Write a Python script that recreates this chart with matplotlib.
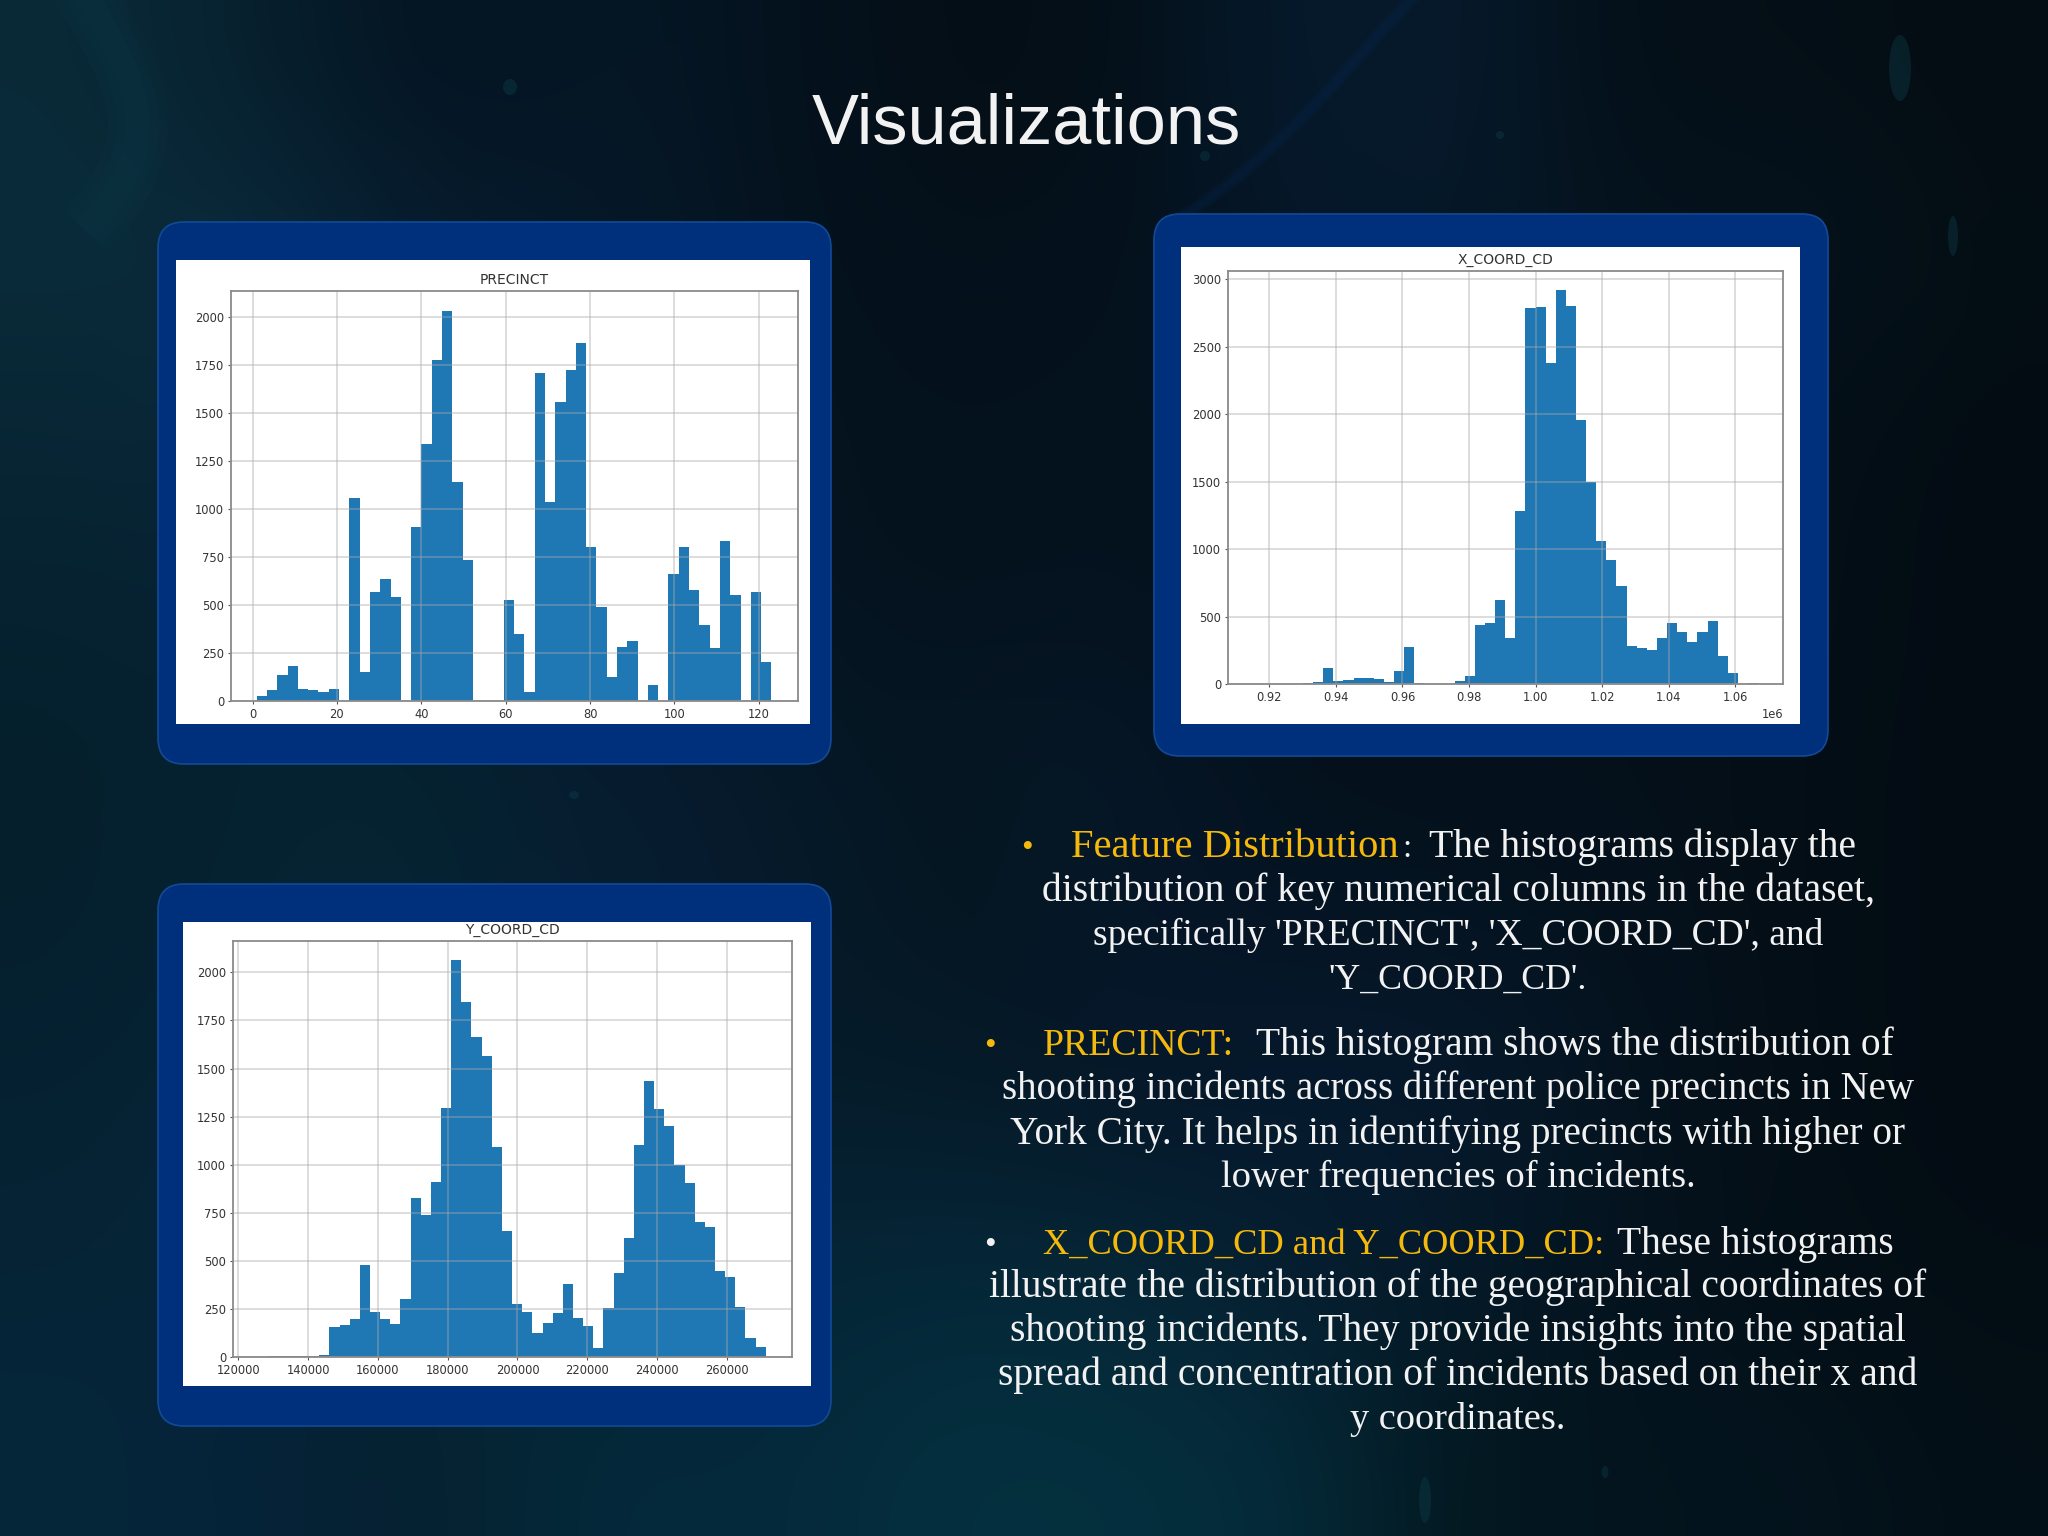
import numpy as np
import matplotlib
matplotlib.use('Agg')
from matplotlib import pyplot as plt
from matplotlib.colors import to_rgb
from matplotlib.patches import Ellipse, FancyBboxPatch, PathPatch, Rectangle
from matplotlib.path import Path

# histogram counts, 50 bins each
precinct_counts = [25, 55, 135, 180, 65, 55, 45, 62, 0, 1055,
                   150, 570, 635, 540, 0, 905, 1340, 1775, 2030, 1140,
                   735, 0, 0, 0, 525, 350, 45, 1710, 1035, 1555,
                   1725, 1865, 800, 490, 125, 280, 315, 0, 85, 0,
                   660, 800, 580, 395, 275, 835, 550, 0, 570, 205]
precinct_range = (1, 123)

x_coord_counts = [1, 1, 1, 1, 2, 8, 15, 115, 25, 30,
                  42, 45, 38, 18, 95, 275, 10, 3, 2, 2,
                  20, 60, 435, 450, 625, 340, 1285, 2785, 2795, 2380,
                  2920, 2800, 1960, 1495, 1060, 920, 730, 285, 270, 250,
                  340, 450, 385, 315, 385, 465, 210, 85, 3, 5]
x_coord_range = (914928, 1066815)

y_coord_counts = [1, 5, 5, 6, 5, 6, 10, 155, 165, 195,
                  480, 235, 195, 170, 300, 825, 740, 910, 1295, 2065,
                  1845, 1665, 1565, 1090, 655, 275, 235, 125, 175, 230,
                  380, 205, 160, 45, 255, 435, 620, 1100, 1435, 1290,
                  1200, 1000, 905, 700, 675, 445, 415, 260, 100, 50]
y_coord_range = (125756, 271128)

precinct_xticks = [0, 20, 40, 60, 80, 100, 120]
x_coord_xticks = [920000, 940000, 960000, 980000, 1000000, 1020000, 1040000, 1060000]
y_coord_xticks = [120000, 140000, 160000, 180000, 200000, 220000, 240000, 260000]
count_ticks = [0, 250, 500, 750, 1000, 1250, 1500, 1750, 2000]
x_coord_yticks = [0, 500, 1000, 1500, 2000, 2500, 3000]

# rough colours of the dark marble backdrop
bg_colors = [
    ['#0a2a38', '#07202e', '#041320', '#051726', '#05131f', '#040e16', '#040f16', '#061a2c', '#071b2e', '#040f17', '#040f17', '#040d13'],
    ['#0a2c3a', '#0a2c3e', '#071c30', '#061a2c', '#05131f', '#04101a', '#04111c', '#05162a', '#061a2a', '#05121d', '#051520', '#040e14'],
    ['#082634', '#09263a', '#071c30', '#071a2c', '#05141f', '#04121e', '#05131f', '#05131f', '#05131f', '#05121d', '#040f18', '#030c13'],
    ['#062230', '#082436', '#071c30', '#071a2c', '#05141f', '#04121e', '#05131f', '#04111c', '#04111c', '#04111a', '#040f17', '#030c13'],
    ['#051f2c', '#052230', '#04242f', '#071c30', '#061a2c', '#05161f', '#07182a', '#04111c', '#04101a', '#04101a', '#040e16', '#030c13'],
    ['#051f2e', '#062434', '#062434', '#071e32', '#061a2c', '#05161f', '#06162a', '#051526', '#051524', '#05121e', '#040e16', '#030c13'],
    ['#052232', '#062638', '#062638', '#072034', '#051c2c', '#061c2a', '#061828', '#061a2e', '#061a2e', '#05141f', '#040e16', '#030c13'],
    ['#052436', '#062638', '#052434', '#052434', '#052636', '#05283a', '#052838', '#061e30', '#051a2a', '#04131e', '#040f17', '#030d14'],
    ['#05263a', '#06233a', '#05202e', '#052b3c', '#04283a', '#04303f', '#05303e', '#052c3c', '#03181f', '#03141e', '#04141e', '#030f16'],
]

# swirls and specks of the marble, in picture pixels
swirls = [
    ([(78, -20), (120, 60), (185, 130), (85, 230)], '#0d3c4a', 60),
    ([(1430, -20), (1350, 60), (1290, 150), (1170, 225)], '#0a2a55', 14),
]
specks = [(1900, 68, 22, 66), (1953, 236, 10, 40), (1205, 156, 10, 10), (510, 87, 14, 16),
          (1500, 135, 8, 8), (1425, 1500, 12, 46), (1605, 1472, 7, 12), (574, 795, 10, 8)]

W, H = 2048, 1536
YELLOW = '#f4b90c'
WHITE = '#f2f2f2'
PANEL = '#002f7c'

plt.rcParams['font.family'] = 'DejaVu Sans'
fig = plt.figure(figsize=(W / 100, H / 100), dpi=100)

bg = fig.add_axes([0, 0, 1, 1], zorder=0)
bg.imshow([[to_rgb(c) for c in row] for row in bg_colors], extent=(0, W, H, 0),
          aspect='auto', interpolation='bicubic')
bg.set_xlim(0, W)
bg.set_ylim(H, 0)
bg.axis('off')

for pts, col, width in swirls:
    path = Path(pts, [Path.MOVETO, Path.CURVE4, Path.CURVE4, Path.CURVE4])
    # a few widths on top of each other so the edge looks soft
    for k in (1.0, 0.7, 0.4):
        bg.add_patch(PathPatch(path, fc='none', ec=col, lw=width * k * 0.72, alpha=0.12))
for x, y, w, h in specks:
    bg.add_patch(Ellipse((x, y), w, h, fc='#0e4450', ec='none', alpha=0.35))


def panel(box, white):
    x0, y0, x1, y1 = box
    bg.add_patch(FancyBboxPatch((x0 + 26, y0 + 26), x1 - x0 - 52, y1 - y0 - 52,
                                boxstyle='round,pad=26,rounding_size=26',
                                fc=PANEL, ec='#124a96', lw=1.2))
    x0, y0, x1, y1 = white
    bg.add_patch(Rectangle((x0, y0), x1 - x0, y1 - y0, fc='white', ec='none'))


def histogram(rect, counts, limits, name, xlim, ylim, xticks, yticks):
    x0, y0, x1, y1 = rect
    ax = fig.add_axes([x0 / W, 1 - y1 / H, (x1 - x0) / W, (y1 - y0) / H], zorder=2)
    edges = np.linspace(limits[0], limits[1], len(counts) + 1)
    ax.hist(edges[:-1], bins=edges, weights=counts, color='#1f77b4')
    ax.set_xlim(xlim)
    ax.set_ylim(ylim)
    ax.set_xticks(xticks)
    ax.set_yticks(yticks)
    ax.grid(True, color='#aaaaaa', lw=1.4, alpha=0.4)
    ax.tick_params(labelsize=8.3, length=2.5, pad=2.5, color='#555555', labelcolor='#333333')
    for s in ax.spines.values():
        s.set_color('#8a8a8a')
        s.set_linewidth(1.3)
    ax.set_title(name, fontsize=10, color='#333333', pad=5)
    return ax


panel((158, 222, 831, 764), (176, 260, 810, 724))
panel((1154, 214, 1828, 756), (1181, 247, 1800, 724))
panel((158, 884, 831, 1426), (183, 922, 811, 1386))

histogram((231, 291, 798, 701), precinct_counts, precinct_range, 'PRECINCT',
          (-5.1, 129.3), (0, 2135), precinct_xticks, count_ticks)
ax_x = histogram((1228, 271, 1783, 684), x_coord_counts, x_coord_range, 'X_COORD_CD',
                 (907600, 1074300), (0, 3063), x_coord_xticks, x_coord_yticks)
ax_x.ticklabel_format(axis='x', style='sci', scilimits=(6, 6), useOffset=False)
ax_x.xaxis.get_offset_text().set_fontsize(8.3)
ax_x.xaxis.get_offset_text().set_color('#333333')
histogram((233, 941, 792, 1357), y_coord_counts, y_coord_range, 'Y_COORD_CD',
          (118500, 278640), (0, 2163), y_coord_xticks, count_ticks)

bg.text(1026, 143, 'Visualizations', color=WHITE, fontsize=50.7, family='Liberation Sans',
        ha='center', va='baseline')

renderer = fig.canvas.get_renderer()


def fit_size(line, width):
    # font size that makes the line as wide as it is on the slide
    probe = bg.text(0, 0, line, fontsize=24, family='Liberation Serif')
    size = 24 * width / probe.get_window_extent(renderer).width
    probe.remove()
    return size


centered = [
    (901, 835, 'distribution of key numerical columns in the dataset,'),
    (945, 732, "specifically 'PRECINCT', 'X_COORD_CD', and"),
    (989, 259, "'Y_COORD_CD'."),
    (1099, 914, 'shooting incidents across different police precincts in New'),
    (1144, 895, 'York City. It helps in identifying precincts with higher or'),
    (1187, 475, 'lower frequencies of incidents.'),
    (1297, 940, 'illustrate the distribution of the geographical coordinates of'),
    (1341, 898, 'shooting incidents. They provide insights into the spatial'),
    (1385, 922, 'spread and concentration of incidents based on their x and'),
    (1429, 216, 'y coordinates.'),
]
for y, width, line in centered:
    bg.text(1458, y, line, color=WHITE, fontsize=fit_size(line, width),
            family='Liberation Serif', ha='center', va='baseline')

runs = [
    (857, 1071, 329, 'Feature Distribution', YELLOW),
    (857, 1429, 428, 'The histograms display the', WHITE),
    (1055, 1043, 191, 'PRECINCT:', YELLOW),
    (1055, 1256, 639, 'This histogram shows the distribution of', WHITE),
    (1254, 1043, 561, 'X_COORD_CD and Y_COORD_CD:', YELLOW),
    (1254, 1617, 277, 'These histograms', WHITE),
]
for y, x, width, line, col in runs:
    bg.text(x, y, line, color=col, fontsize=fit_size(line, width),
            family='Liberation Serif', ha='left', va='baseline')

for y, x, line, col in [(857, 1402, ':', WHITE), (857, 1021, '\u2022', YELLOW),
                        (1055, 984, '\u2022', YELLOW), (1254, 984, '\u2022', WHITE)]:
    bg.text(x, y, line, color=col, fontsize=24, family='Liberation Serif',
            ha='left', va='baseline')

fig.savefig('out.png', dpi=100)
